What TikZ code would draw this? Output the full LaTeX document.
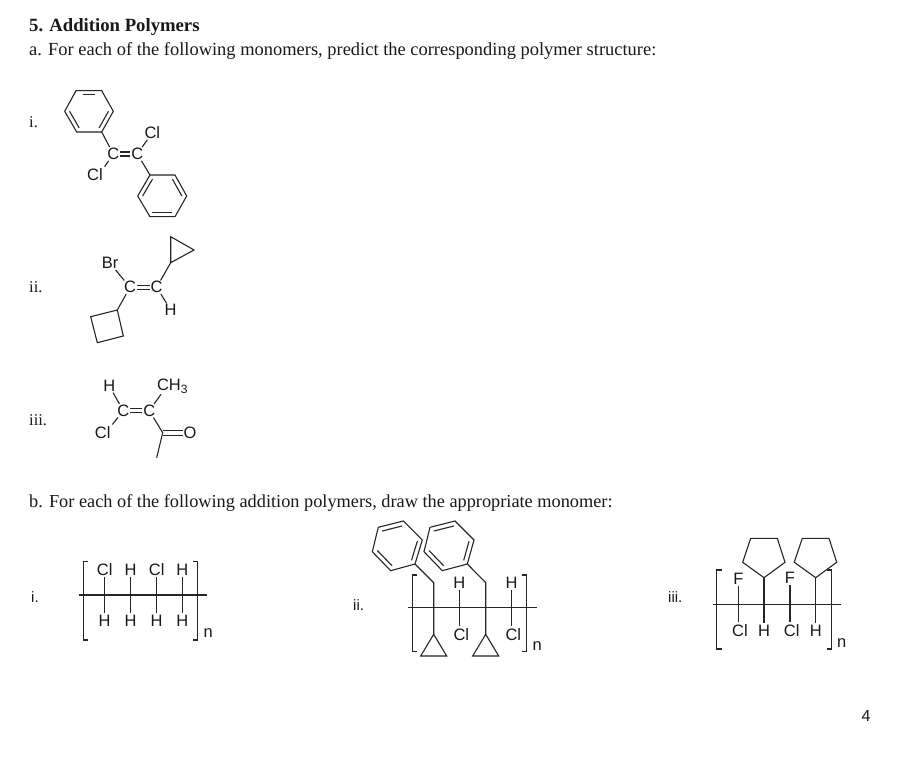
\documentclass[tikz,border=0pt]{standalone}
\usepackage{fontspec}
\setmainfont{Liberation Serif}
\setsansfont{Liberation Sans}
\usetikzlibrary{calc}
\newcommand\atomsize{\fontsize{16.5}{16.5}\selectfont\sffamily}
\newcommand\ringin[4][0pt]{\draw[bond,shorten <=#1,shorten >=#1] ($(#2)!.2!(#4)$) -- ($(#3)!.2!(#4)$);}
\tikzset{
  x=1pt,y=-1pt,
  bond/.style={draw=black!85,line width=1.1pt,line join=miter},
  atom/.style={font=\atomsize,inner sep=0.8pt,text=black!90},
  doc/.style={font=\fontsize{18.45}{18.45}\selectfont,anchor=base west,inner sep=0pt,text=black!90},
  docb/.style={font=\fontsize{18.3}{18.3}\selectfont,anchor=base west,inner sep=0pt,text=black!90},
  head/.style={font=\fontsize{18.7}{18.7}\selectfont\bfseries,anchor=base west,inner sep=0pt,text=black!90},
  roman/.style={font=\fontsize{16.5}{16.5}\selectfont,anchor=base west,inner sep=0pt,text=black!90},
  romansf/.style={font=\fontsize{15}{15}\selectfont\sffamily,anchor=base west,inner sep=0pt,text=black!90},
  pagenum/.style={font=\fontsize{16}{16}\selectfont\sffamily,inner sep=0pt,text=black!90},
}
\begin{document}
\begin{tikzpicture}
\useasboundingbox (0,0) rectangle (897,783);
\fill[white] (0,0) rectangle (897,783);
% text
\node[head] (title) at (29,32) {5. Addition Polymers};
\node[doc] (parta) at (29,56) {a. For each of the following monomers, predict the corresponding polymer structure:};
\node[docb] (partb) at (29,507) {b. For each of the following addition polymers, draw the appropriate monomer:};
\node[roman] (ai) at (29,128) {i.};
\node[roman] (aii) at (29,293) {ii.};
\node[roman] (aiii) at (29,426) {iii.};
\node[romansf] (bi) at (31,602) {i.};
\node[romansf] (bii) at (353,610) {ii.};
\node[romansf] (biii) at (668,602) {iii.};
\node[pagenum] (page) at (866,716) {4};

% ---- a.i
\node[atom] (A1) at (113.3,154) {C};
\node[atom] (A2) at (137.3,154) {C};
\node[atom] (A1cl) at (95,175) {Cl};
\node[atom] (A2cl) at (152.3,132.7) {Cl};
\coordinate (Pc) at (89,111.3);
\coordinate (P1) at (76,90.7); \coordinate (P2) at (101.7,90.7); \coordinate (P3) at (113.3,111.3);
\coordinate (P4) at (101.7,132); \coordinate (P5) at (76.7,132); \coordinate (P6) at (64.7,111.3);
\draw[bond] (P1)--(P2)--(P3)--(P4)--(P5)--(P6)--cycle;
\ringin[4pt]{P1}{P2}{Pc} \ringin{P3}{P4}{Pc} \ringin{P5}{P6}{Pc}
\coordinate (Qc) at (162.3,196);
\coordinate (Q1) at (150,175); \coordinate (Q2) at (175,175); \coordinate (Q3) at (186.7,196);
\coordinate (Q4) at (175,216.7); \coordinate (Q5) at (150,216.7); \coordinate (Q6) at (137.7,196);
\draw[bond] (Q1)--(Q2)--(Q3)--(Q4)--(Q5)--(Q6)--cycle;
\ringin{Q4}{Q5}{Qc} \ringin{Q2}{Q3}{Qc} \ringin{Q6}{Q1}{Qc}
\draw[bond] (A1)--(P4) (A2)--(Q1) (A2)--(A2cl);
\draw[bond,shorten >=1.5pt] (A1)--(A1cl.north east);
\draw[bond] ([yshift=2pt]A1.east)--([yshift=2pt]A2.west) ([yshift=-2pt]A1.east)--([yshift=-2pt]A2.west);

% ---- a.ii
\node[atom] (B1) at (130,287.3) {C};
\node[atom] (B2) at (156.7,287.3) {C};
\node[atom] (Bbr) at (110,263.3) {Br};
\node[atom] (Bh) at (170.7,310) {H};
\coordinate (T1) at (170.7,236.7); \coordinate (T2) at (194,250); \coordinate (T3) at (170.7,262.7);
\draw[bond] (T1)--(T2)--(T3)--cycle;
\coordinate (S1) at (117.3,310); \coordinate (S2) at (123.3,336); \coordinate (S3) at (97.3,342.7); \coordinate (S4) at (90.7,316.7);
\draw[bond] (S1)--(S2)--(S3)--(S4)--cycle;
\draw[bond] (B1)--(Bbr) (B1)--(S1) (B2)--(T3) (B2)--(Bh);
\draw[bond] ([yshift=2pt]B1.east)--([yshift=2pt]B2.west) ([yshift=-2pt]B1.east)--([yshift=-2pt]B2.west);

% ---- a.iii
\node[atom] (C1) at (123.3,410.7) {C};
\node[atom] (C2) at (149.3,410.7) {C};
\node[atom] (Ch) at (109.3,386) {H};
\node[atom,anchor=west] (Cme) at (156,386) {CH\raisebox{-3pt}{\fontsize{12}{12}\selectfont 3}};
\node[atom] (Ccl) at (102.7,432.7) {Cl};
\node[atom] (Co) at (190,432.7) {O};
\coordinate (Cv) at (162.7,432.7);
\coordinate (Cm) at (156.7,457.7);
\draw[bond] (C1)--(Ch) (C2)--([xshift=5pt]Cme.south west) (C2)--(Cv)--(Cm);
\draw[bond,shorten >=1.5pt] (C1)--(Ccl.north east);
\draw[bond] ([yshift=2pt]C1.east)--([yshift=2pt]C2.west) ([yshift=-2pt]C1.east)--([yshift=-2pt]C2.west);
\draw[bond] ([yshift=-2.5pt]Cv.center)--([yshift=-2.5pt]Co.west) ([yshift=2.5pt]Cv.center)--([yshift=2.5pt]Co.west);

% ---- b.i
\coordinate (Da) at (79.3,595); \coordinate (Db) at (207.3,595);
\draw[bond] (Da)--(Db);
\node[atom] (Dt1) at (104.7,570) {Cl}; \node[atom] (Dt2) at (130.7,570) {H};
\node[atom] (Dt3) at (156.7,570) {Cl}; \node[atom] (Dt4) at (182.3,570) {H};
\node[atom] (Db1) at (104.7,621) {H}; \node[atom] (Db2) at (130.7,621) {H};
\node[atom] (Db3) at (156.7,621) {H}; \node[atom] (Db4) at (182.3,621) {H};
\foreach \k in {1,2,3,4} {\draw[bond,shorten >=1.5pt] (Dt\k)--(Db\k);}
\coordinate (Dl1) at (88.3,561.7); \coordinate (Dl2) at (83.3,561.7); \coordinate (Dl3) at (83.3,640); \coordinate (Dl4) at (88.3,640);
\coordinate (Dr1) at (193.3,561.7); \coordinate (Dr2) at (197.7,561.7); \coordinate (Dr3) at (197.7,640); \coordinate (Dr4) at (193.3,640);
\draw[bond] (Dl1)--(Dl2)--(Dl3)--(Dl4);
\draw[bond] (Dr1)--(Dr2)--(Dr3)--(Dr4);
\node[atom] (Dn) at (208.3,633.3) {n};

% ---- b.ii
\coordinate (Ea) at (408.3,607.7); \coordinate (Eb) at (536.7,607.7);
\draw[bond] (Ea)--(Eb);
\node[atom] (Eh1) at (459.3,583.3) {H}; \node[atom] (Ecl1) at (461.3,634.3) {Cl};
\node[atom] (Eh2) at (511.7,583.3) {H}; \node[atom] (Ecl2) at (513.3,634.3) {Cl};
\draw[bond,shorten >=1.5pt] (Eh1)--(Eh1|-Ecl1.north);
\draw[bond,shorten >=1.5pt] (Eh2)--(Eh2|-Ecl2.north);
\coordinate (U1) at (403.3,521); \coordinate (U2) at (422.3,540); \coordinate (U3) at (415,564);
\coordinate (U4) at (390.7,570.7); \coordinate (U5) at (372.3,551.7); \coordinate (U6) at (378.3,527.3);
\coordinate (Uc) at (397.5,546);
\draw[bond] (U1)--(U2)--(U3)--(U4)--(U5)--(U6)--cycle;
\ringin{U6}{U1}{Uc} \ringin{U2}{U3}{Uc} \ringin{U4}{U5}{Uc}
\coordinate (V1) at (455,521); \coordinate (V2) at (474,540); \coordinate (V3) at (467.3,564);
\coordinate (V4) at (442.3,570.7); \coordinate (V5) at (424,551.7); \coordinate (V6) at (430,527.3);
\coordinate (Vc) at (449.2,546);
\draw[bond] (V1)--(V2)--(V3)--(V4)--(V5)--(V6)--cycle;
\ringin{V6}{V1}{Vc} \ringin{V2}{V3}{Vc} \ringin{V4}{V5}{Vc}
\coordinate (E1k) at (433.7,582.7); \coordinate (E1t) at (433.7,634.3);
\coordinate (E1l) at (420.7,656); \coordinate (E1r) at (446.7,656);
\draw[bond] (U3)--(E1k)--(E1t);
\draw[bond] (E1t)--(E1r)--(E1l)--cycle;
\coordinate (E2k) at (485.7,582.7); \coordinate (E2t) at (485.7,634.3);
\coordinate (E2l) at (472.7,656); \coordinate (E2r) at (498.7,656);
\draw[bond] (V3)--(E2k)--(E2t);
\draw[bond] (E2t)--(E2r)--(E2l)--cycle;
\coordinate (El1) at (417.3,575); \coordinate (El2) at (412.7,575); \coordinate (El3) at (412.7,651.7); \coordinate (El4) at (417.3,651.7);
\coordinate (Er1) at (522.3,575); \coordinate (Er2) at (526.7,575); \coordinate (Er3) at (526.7,651.7); \coordinate (Er4) at (522.3,651.7);
\draw[bond] (El1)--(El2)--(El3)--(El4);
\draw[bond] (Er1)--(Er2)--(Er3)--(Er4);
\node[atom] (En) at (537.3,645.7) {n};

% ---- b.iii
\coordinate (Fa) at (712.7,604.3); \coordinate (Fb) at (841,604.3);
\draw[bond] (Fa)--(Fb);
\node[atom] (Ff1) at (738.3,579) {F}; \node[atom] (Fcl1) at (740,631) {Cl};
\node[atom] (Ff2) at (790,578.3) {F}; \node[atom] (Fcl2) at (791.7,631) {Cl};
\node[atom] (Fh1) at (764,631) {H}; \node[atom] (Fh2) at (815.7,631) {H};
\draw[bond,shorten >=1.5pt] (Ff1)--(Ff1|-Fcl1.north);
\draw[bond,shorten >=1.5pt] (Ff2)--(Ff2|-Fcl2.north);
\coordinate (W1) at (764,577.7); \coordinate (W2) at (785,562.3); \coordinate (W3) at (777.3,538.3); \coordinate (W4) at (750.7,538.3); \coordinate (W5) at (742.7,562.3);
\draw[bond] (W1)--(W2)--(W3)--(W4)--(W5)--cycle;
\coordinate (X1) at (815.7,577.7); \coordinate (X2) at (836.7,562.3); \coordinate (X3) at (829,538.3); \coordinate (X4) at (802.3,538.3); \coordinate (X5) at (794.3,562.3);
\draw[bond] (X1)--(X2)--(X3)--(X4)--(X5)--cycle;
\draw[bond,shorten >=1.5pt] (W1)--(Fh1);
\draw[bond,shorten >=1.5pt] (X1)--(Fh2);
\coordinate (Fl1) at (721.7,570); \coordinate (Fl2) at (716.7,570); \coordinate (Fl3) at (716.7,649); \coordinate (Fl4) at (721.7,649);
\coordinate (Fr1) at (826.7,570); \coordinate (Fr2) at (831.7,570); \coordinate (Fr3) at (831.7,649); \coordinate (Fr4) at (826.7,649);
\draw[bond] (Fl1)--(Fl2)--(Fl3)--(Fl4);
\draw[bond] (Fr1)--(Fr2)--(Fr3)--(Fr4);
\node[atom] (Fn) at (841.7,643.3) {n};
\end{tikzpicture}
\end{document}
